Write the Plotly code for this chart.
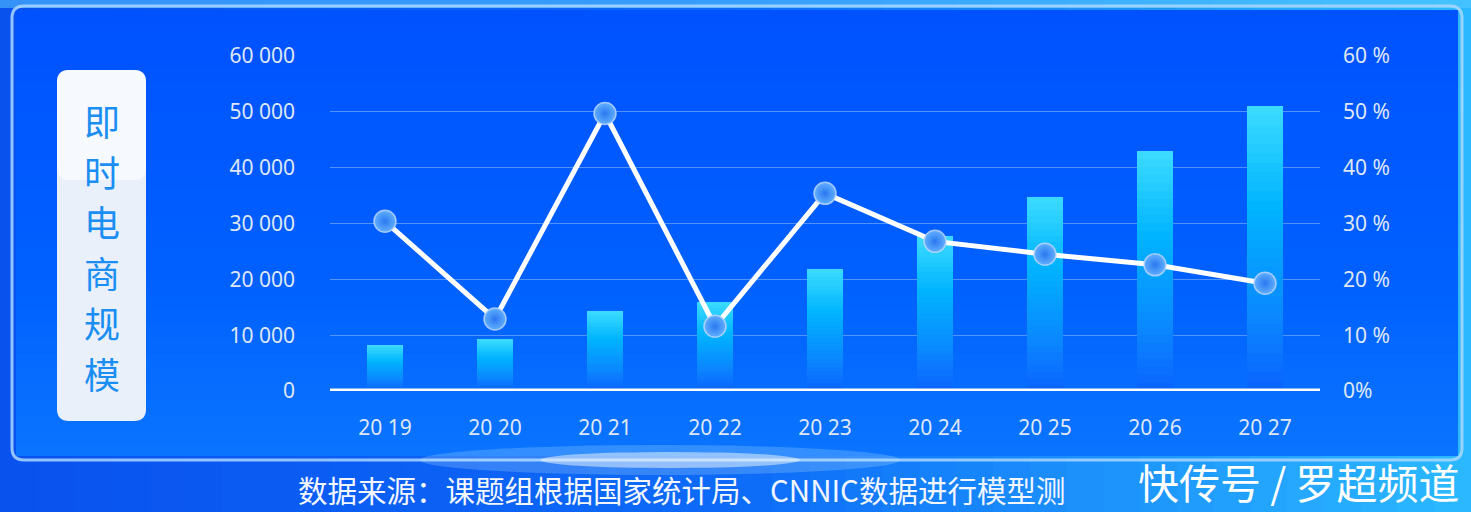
import plotly.graph_objects as go

# ---------------- data ----------------
years = ["2019", "2020", "2021", "2022", "2023", "2024", "2025", "2026", "2027"]
year_labels = ["20 19", "20 20", "20 21", "20 22", "20 23", "20 24", "20 25", "20 26", "20 27"]
scale_values = [8300, 9300, 14300, 15900, 21800, 27700, 34800, 42900, 51100]
growth_pct = [30.4, 12.9, 49.7, 11.6, 35.4, 26.8, 24.5, 22.6, 19.3]
left_tick_vals = [0, 10000, 20000, 30000, 40000, 50000, 60000]
left_tick_text = ["0", "10 000", "20 000", "30 000", "40 000", "50 000", "60 000"]
right_tick_vals = [0, 10, 20, 30, 40, 50, 60]
right_tick_text = ["0%", "10 %", "20 %", "30 %", "40 %", "50 %", "60 %"]
side_title = "即时电商规模"
source_text = "数据来源：课题组根据国家统计局、CNNIC数据进行模型测"
brand_text = "快传号 / 罗超频道"

# ---------------- geometry ----------------
W, H = 1471, 512
L, R, T, B = 330, 151, 56, 121
PW, PH = W - L - R, H - T - B


def px(x):
    return (x - L) / PW


def py(y):
    return (H - B - y) / PH


def hexmix(c1, c2, t):
    a = [int(c1[i:i + 2], 16) for i in (1, 3, 5)]
    b = [int(c2[i:i + 2], 16) for i in (1, 3, 5)]
    return "#%02x%02x%02x" % tuple(round(a[i] + (b[i] - a[i]) * t) for i in range(3))


def grad(stops, t):
    for i in range(len(stops) - 1):
        t0, c0 = stops[i]
        t1, c1 = stops[i + 1]
        if t <= t1:
            return hexmix(c0, c1, (t - t0) / (t1 - t0) if t1 > t0 else 0)
    return stops[-1][1]


def rrect(x0, y0, x1, y1, r):
    X0, X1 = px(x0), px(x1)
    Y0, Y1 = py(y0), py(y1)
    rx, ry = r / PW, r / PH
    return (f"M{X0+rx},{Y0} L{X1-rx},{Y0} Q{X1},{Y0} {X1},{Y0-ry} "
            f"L{X1},{Y1+ry} Q{X1},{Y1} {X1-rx},{Y1} L{X0+rx},{Y1} "
            f"Q{X0},{Y1} {X0},{Y1+ry} L{X0},{Y0-ry} Q{X0},{Y0} {X0+rx},{Y0} Z")


shapes = []
# outer background bands (left->right gradient)
nb = 40
for i in range(nb):
    x0 = i * W / nb
    x1 = (i + 1) * W / nb + 1
    c = grad([(0, "#0a52ee"), (0.5, "#0d6bf8"), (1, "#2bb8ff")], i / (nb - 1))
    shapes.append(dict(type="rect", xref="paper", yref="paper", x0=px(x0), x1=px(x1),
                       y0=py(H), y1=py(0), fillcolor=c, line_width=0, layer="below"))
# top strip light
shapes.append(dict(type="rect", xref="paper", yref="paper", x0=px(0), x1=px(W), y0=py(8), y1=py(0),
                   fillcolor="rgba(90,200,255,0.55)", line_width=0, layer="below"))
# panel bands (vertical gradient)
npb = 30
pan_top, pan_bot = 6, 460
for i in range(npb):
    y0 = pan_top + i * (pan_bot - pan_top) / npb
    y1 = pan_top + (i + 1) * (pan_bot - pan_top) / npb + 1
    c = grad([(0, "#0052ff"), (0.6, "#0060ff"), (1, "#0a74ff")], i / (npb - 1))
    shapes.append(dict(type="rect", xref="paper", yref="paper", x0=px(16), x1=px(1458),
                       y0=py(min(y1, pan_bot - 4)), y1=py(max(y0, pan_top + 4)),
                       fillcolor=c, line_width=0, layer="below"))
# panel border
shapes.append(dict(type="path", xref="paper", yref="paper", path=rrect(12, 6, 1462, 460, 12),
                   fillcolor="rgba(0,0,0,0)", line=dict(color="rgba(170,215,255,0.85)", width=3), layer="below"))
# glow below panel
shapes.append(dict(type="circle", xref="paper", yref="paper", x0=px(420), x1=px(900), y0=py(475), y1=py(445),
                   fillcolor="rgba(200,235,255,0.22)", line_width=0, layer="below"))
shapes.append(dict(type="circle", xref="paper", yref="paper", x0=px(540), x1=px(800), y0=py(468), y1=py(452),
                   fillcolor="rgba(240,250,255,0.5)", line_width=0, layer="below"))
# side label box
shapes.append(dict(type="path", xref="paper", yref="paper", path=rrect(57, 70, 146, 421, 12),
                   fillcolor="#e9f0fa", line_width=0, layer="below"))
shapes.append(dict(type="path", xref="paper", yref="paper", path=rrect(57, 70, 146, 180, 12),
                   fillcolor="rgba(255,255,255,0.6)", line_width=0, layer="below"))
# baseline
shapes.append(dict(type="line", xref="paper", yref="y", x0=0, x1=1, y0=0, y1=0,
                   line=dict(color="white", width=5), layer="above"))

fig = go.Figure()

# bars as stacked gradient segments
N = 30
bar_stops = [(0, "#3ddcff"), (0.35, "#00b4ff"), (0.75, "#0b86ff"), (1, "#0a62ff")]
for k in range(N):
    t = 1 - (k + 0.5) / N
    fig.add_trace(go.Bar(
        x=years, y=[v / N for v in scale_values],
        marker=dict(color=grad(bar_stops, t), line=dict(width=0)),
        width=0.32, showlegend=False, hoverinfo="skip", yaxis="y"))

fig.add_trace(go.Scatter(
    x=years, y=growth_pct, yaxis="y2", mode="lines+markers",
    line=dict(color="white", width=5),
    marker=dict(size=22, color="#62b0ff",
                gradient=dict(type="radial", color="#2a78f0"),
                line=dict(color="rgba(190,215,255,0.8)", width=1.5)),
    showlegend=False))

tickfont = dict(family="Noto Sans, Open Sans, sans-serif", size=21, color="#dfe7f4")

annotations = []
char_y = [120, 170.5, 221, 271.5, 322, 372.5]
for ch, cy in zip(list(side_title), char_y):
    annotations.append(dict(text=ch, xref="paper", yref="paper", x=px(101.5), y=py(cy),
                            xanchor="center", yanchor="middle", showarrow=False,
                            font=dict(family="Noto Sans CJK SC", size=36, color="#1a8ef2")))
annotations += [
    dict(text=source_text, xref="paper", yref="paper", x=px(296), y=py(489),
         xanchor="left", yanchor="middle", showarrow=False,
         font=dict(family="Noto Sans CJK SC", size=29.5, color="#f2f6ff")),
    dict(text=brand_text, xref="paper", yref="paper", x=px(1461), y=py(481),
         xanchor="right", yanchor="middle", showarrow=False,
         font=dict(family="Noto Sans CJK SC", size=41, color="white")),
]

fig.update_layout(
    width=W, height=H,
    margin=dict(l=L, r=R, t=T, b=B, pad=0),
    paper_bgcolor="#0a62ff", plot_bgcolor="rgba(0,0,0,0)",
    barmode="stack", bargap=0.68,
    shapes=shapes, annotations=annotations,
    xaxis=dict(categoryorder="array", categoryarray=years, tickvals=years, ticktext=year_labels,
               range=[-0.5, 8.5], showgrid=False, zeroline=False, showline=False, ticks="",
               tickfont=tickfont, ticklabelstandoff=22, fixedrange=True, automargin=False),
    yaxis=dict(range=[0, 60000], tickvals=left_tick_vals, ticktext=left_tick_text,
               showgrid=True, gridcolor="rgba(110,165,255,0.75)", gridwidth=1.2,
               zeroline=False, showline=False, ticks="", automargin=False,
               tickfont=tickfont, ticklabelstandoff=34),
    yaxis2=dict(range=[0, 60], tickvals=right_tick_vals, ticktext=right_tick_text,
                overlaying="y", side="right", showgrid=False, zeroline=False, automargin=False,
                showline=False, ticks="", tickfont=tickfont, ticklabelstandoff=22),
)

fig.write_html("out.html", config={"displayModeBar": False},
               post_script="document.body.style.margin='0';document.body.style.overflow='hidden';")
